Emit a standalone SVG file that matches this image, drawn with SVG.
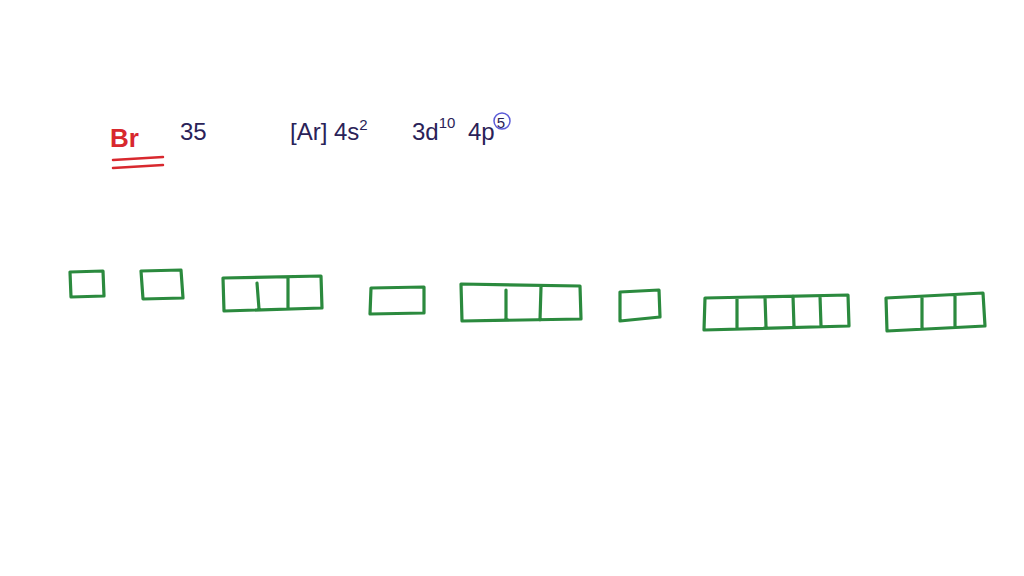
<svg xmlns="http://www.w3.org/2000/svg" width="1024" height="576" viewBox="0 0 1024 576">
<style>
.box{fill:none;stroke:#2b8a3e;stroke-width:3.2;stroke-linejoin:round;stroke-linecap:round}
.t{font-family:"Liberation Sans",Arial,sans-serif;fill:#2a2258;font-size:24px}
.red{fill:#d8282e;font-weight:bold;font-size:26px}
.sup{font-size:15px}
</style>
<rect width="1024" height="576" fill="#ffffff"/>
<g id="header">
<text class="t red" x="110" y="147">Br</text>
<path d="M113 160 L163 157 M113 168 L163 165" stroke="#d8282e" stroke-width="2.5" stroke-linecap="round" fill="none"/>
<text class="t" x="180" y="140">35</text>
<text class="t" x="290" y="140">[Ar]</text>
<text class="t" x="334" y="140">4s<tspan class="sup" dy="-10">2</tspan></text>
<text class="t" x="412" y="140">3d<tspan class="sup" dy="-12">10</tspan></text>
<text class="t" x="468" y="140">4p<tspan class="sup" dx="2" dy="-12">5</tspan></text>
<circle cx="502" cy="121" r="8" fill="none" stroke="#5a5ad8" stroke-width="1.5"/>
</g>
<g id="orbitals">
<g id="box1"><path class="box" d="M70 272 L103 271 L104 296 L71 297 Z"/></g>
<g id="box2"><path class="box" d="M141 271 L181 270 L183 298 L143 299 Z"/></g>
<g id="box3"><path class="box" d="M223 278 L321 276 L322 308 L224 311 Z M257 283 L259 309 M288 277 L288 309"/></g>
<g id="box4"><path class="box" d="M371 288 L424 287 L424 313 L370 314 Z"/></g>
<g id="box5"><path class="box" d="M461 284 L580 286 L581 319 L462 321 Z M506 290 L506 320 M541 287 L540 320"/></g>
<g id="box6"><path class="box" d="M620 292 L659 290 L660 317 L620 321 Z"/></g>
<g id="box7"><path class="box" d="M705 298 L848 295 L849 326 L704 330 Z M737 298 L737 328 M765 297 L766 327 M793 296 L794 327 M820 296 L821 326"/></g>
<g id="box8"><path class="box" d="M886 298 L983 293 L985 326 L887 331 Z M922 297 L922 329 M955 295 L955 327"/></g>
</g>
</svg>
